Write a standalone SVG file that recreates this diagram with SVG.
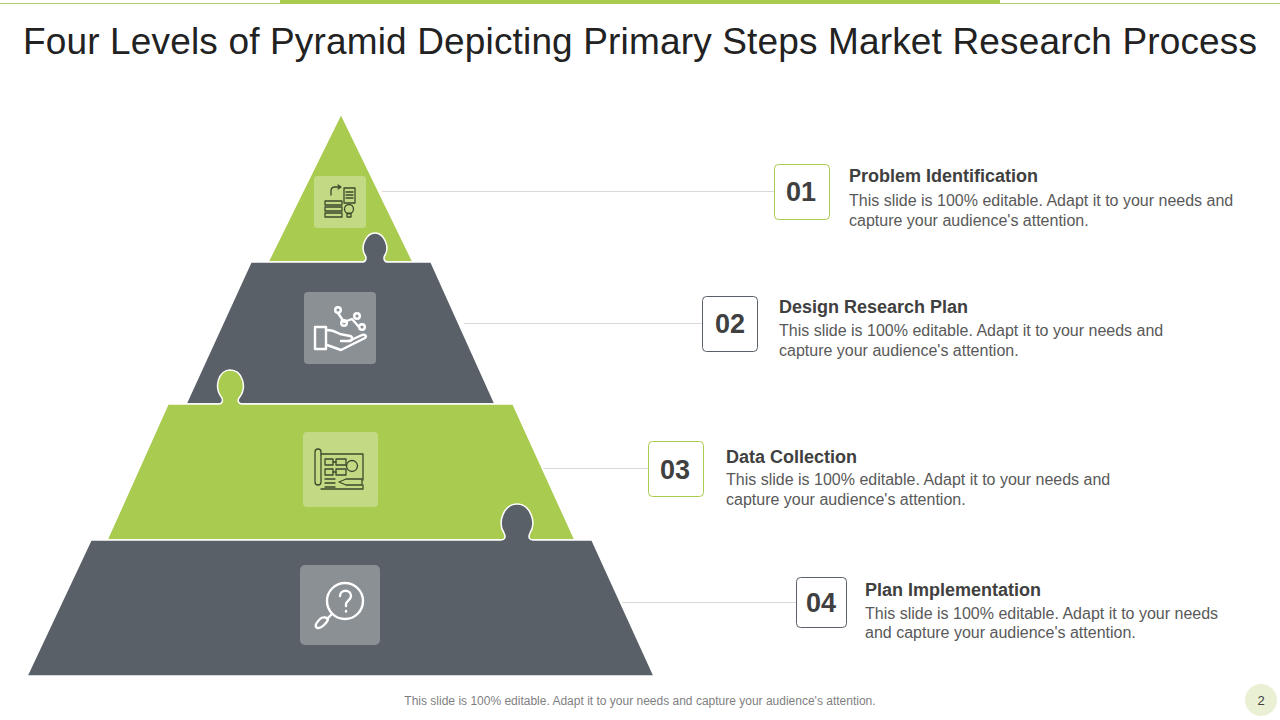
<svg xmlns="http://www.w3.org/2000/svg" width="1280" height="720" viewBox="0 0 1280 720">
<defs><style>
text{font-family:"Liberation Sans",Arial,sans-serif}
.title{font-size:37px;fill:#222}
.h{font-size:18px;font-weight:bold;fill:#404040}
.b{font-size:16px;fill:#595959}
.n{font-size:27px;font-weight:bold;fill:#404040;text-anchor:middle}
.box{fill:#fff;stroke-width:1}
.l{stroke:#d9d9d9;stroke-width:1;fill:none}
.g{fill:#a9cb4f;stroke:#fff;stroke-width:1.5}
.d{fill:#596067;stroke:#fff;stroke-width:1.5}
.ic{fill:#fff;fill-opacity:.3}
.iw{fill:none;stroke:#fff;stroke-width:2.4;stroke-linecap:round;stroke-linejoin:round}
.id{fill:none;stroke:#3d4a2c;stroke-width:1.3;stroke-linecap:round;stroke-linejoin:round}
</style></defs>
<rect width="1280" height="720" fill="#fff"/>
<rect x="0" y="3" width="1280" height="1" fill="#b4cf6c"/>
<rect x="280" y="0" width="720" height="4" fill="#a9cb4f"/>
<text class="title" x="23" y="54" textLength="1234" lengthAdjust="spacing">Four Levels of Pyramid Depicting Primary Steps Market Research Process</text>
<g id="connectors">
<path class="l" d="M382 191.500H774"/><path class="l" d="M464 323.500H702"/><path class="l" d="M541 468.500H648"/><path class="l" d="M622 602.500H796"/>
</g>
<g id="level1">
<path class="g" d="M341 114L413 262H268Z"/>
<rect class="ic" x="314" y="176" width="52" height="52" rx="3"/>
<g class="id"><path d="M331 195v-4q0-4 4-4h5M338 185l3 2-3 2"/><path d="M344 188h11v15h-11z M346 192h7M346 195h7M346 198h7"/><rect x="325" y="201" width="17" height="4"/><rect x="325" y="207" width="17" height="4"/><rect x="325" y="213" width="17" height="4"/><circle cx="349" cy="209" r="4.500"/><path d="M347 213.500h4v3.500h-4z"/></g>
</g>
<g id="level2">
<path class="d" d="M251 262H362C366 262 367 258 365 255C360 247 366 233 375 233C384 233 390 247 385 255C383 258 384 262 388 262H431L495 404H186Z"/>
<rect class="ic" x="304" y="292" width="72" height="72" rx="4"/>
<g class="iw"><rect x="315" y="327" width="11" height="22"/><path d="M327 330c6 0 9 2 13 4l10 2c3 1 3 4 0 5h-9"/><path d="M327 345l14 5 24-12c2-2 0-4-3-3l-13 6"/><path d="M338 313l6 9 8-3 7 8"/><circle cx="338" cy="310" r="2.800"/><circle cx="344" cy="323" r="2.800"/><circle cx="357" cy="316" r="2.800"/><circle cx="362" cy="327" r="2.800"/></g>
</g>
<g id="level3">
<path class="g" d="M168 404H219C222 404 223 401 222 398C213 387 219 370 230 370C242 370 248 387 239 398C237 401 239 404 242 404H513L575 540H107Z"/>
<rect class="ic" x="303" y="432" width="75" height="75" rx="4"/>
<g class="id" stroke-width="1.500"><path d="M315 482v-30q0-3 3-3t3 3v30q0 3-3 3t-3-3"/><path d="M321 454h42v26M321 489h42v-4"/><rect x="325" y="459" width="8" height="6"/><rect x="325" y="469" width="8" height="6"/><path d="M333 462h3M333 472h3"/><rect x="336" y="459" width="10" height="6"/><rect x="336" y="469" width="10" height="6"/><circle cx="352" cy="466" r="5.500"/><path d="M325 479h10M325 483h10M325 487h10"/><path d="M339 482l7-3h16v6h-16z"/></g>
</g>
<g id="level4">
<path class="d" d="M91 540H501C505 540 506 537 504 533C497 522 504 504 517 504C530 504 537 522 530 533C528 537 529 540 533 540H592L654 676H27Z"/>
<rect class="ic" x="300" y="565" width="80" height="80" rx="5"/>
<g class="iw"><circle cx="345" cy="601" r="18"/><path d="M340 596c0-7 11-7 11 0 0 4-5 5-5 8v2"/><path d="M346 611v.500"/><path d="M332 614l-5 5"/><path d="M320 619c3-3 8-1 8 0s-1 3-4 6-7 4-8 2 1-5 4-8z"/></g>
</g>
<g id="item1">
<rect class="box" x="774.500" y="164.500" width="55" height="55" rx="4" stroke="#a9cb4f"/>
<text class="n" x="801" y="201">01</text>
<text class="h" x="849" y="182">Problem Identification</text>
<text class="b" x="849" y="206">This slide is 100% editable. Adapt it to your needs and</text>
<text class="b" x="849" y="226">capture your audience's attention.</text>
</g>
<g id="item2">
<rect class="box" x="702.500" y="296.500" width="55" height="55" rx="4" stroke="#596067"/>
<text class="n" x="730" y="333">02</text>
<text class="h" x="779" y="313">Design Research Plan</text>
<text class="b" x="779" y="336">This slide is 100% editable. Adapt it to your needs and</text>
<text class="b" x="779" y="356">capture your audience's attention.</text>
</g>
<g id="item3">
<rect class="box" x="648.500" y="441.500" width="55" height="55" rx="4" stroke="#a9cb4f"/>
<text class="n" x="675" y="479">03</text>
<text class="h" x="726" y="463">Data Collection</text>
<text class="b" x="726" y="485">This slide is 100% editable. Adapt it to your needs and</text>
<text class="b" x="726" y="505">capture your audience's attention.</text>
</g>
<g id="item4">
<rect class="box" x="796.500" y="577.500" width="50" height="50" rx="4" stroke="#596067"/>
<text class="n" x="821" y="612">04</text>
<text class="h" x="865" y="596">Plan Implementation</text>
<text class="b" x="865" y="619">This slide is 100% editable. Adapt it to your needs</text>
<text class="b" x="865" y="638">and capture your audience's attention.</text>
</g>
<text x="640" y="705" text-anchor="middle" font-size="12" fill="#7f7f7f">This slide is 100% editable. Adapt it to your needs and capture your audience's attention.</text>
<g id="page"><circle cx="1261" cy="700" r="16" fill="#e9f0d4"/><text x="1261" y="705" text-anchor="middle" font-size="13" fill="#404040">2</text></g>
</svg>
